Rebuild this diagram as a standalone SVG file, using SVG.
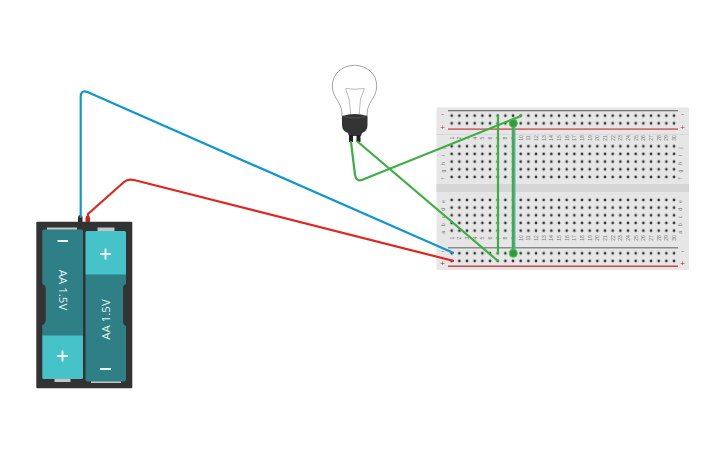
<svg xmlns="http://www.w3.org/2000/svg" width="725" height="453" viewBox="0 0 725 453">
<style>
.w{fill:none;stroke-width:2.2;stroke-linejoin:round;stroke-linecap:round}
.g{stroke:#3cb043}.b{stroke:#0f97d3}.r{stroke:#e0261e}
.n{font-family:"Liberation Sans",sans-serif;font-size:5px;fill:#777;text-anchor:middle}
.s{font-family:"Liberation Sans",sans-serif;font-size:8px;text-anchor:middle}
.bat{font-family:"Open Sans","Liberation Sans",sans-serif;font-size:11.5px;fill:#e8f4f4;text-anchor:middle}
.t{fill:#2f7f86}.c{fill:#45c3c8}.cap{fill:#c4c4c4}
.pm{stroke:#e8f6f6;stroke-width:2;fill:none}
.fil{fill:none;stroke:#aaa;stroke-width:.8}
</style>
<defs>
<pattern id="holes" patternUnits="userSpaceOnUse" x="447.87" y="111.87" width="7.667" height="7.667">
<circle cx="3.83" cy="3.83" r="1.35" fill="#333"/>
</pattern>
<pattern id="holes2" patternUnits="userSpaceOnUse" x="447.87" y="196.17" width="7.667" height="7.667">
<circle cx="3.83" cy="3.83" r="1.35" fill="#333"/>
</pattern>
<pattern id="holes3" patternUnits="userSpaceOnUse" x="447.87" y="142.47" width="7.667" height="7.667">
<circle cx="3.83" cy="3.83" r="1.35" fill="#333"/>
</pattern>
<pattern id="holes4" patternUnits="userSpaceOnUse" x="447.87" y="249.47" width="7.667" height="7.667">
<circle cx="3.83" cy="3.83" r="1.35" fill="#333"/>
</pattern>
</defs>
<rect width="725" height="453" fill="#fff"/>
<g id="breadboard">
<rect x="436.5" y="107.5" width="252.5" height="162.5" rx="1" fill="#e6e6e6"/>
<rect x="436.5" y="134" width="252.5" height="1" fill="#d8d8d8"/>
<rect x="436.5" y="184" width="252.5" height="8" fill="#d6d6d6"/>
<rect x="448" y="110" width="230" height="1.3" fill="#777"/>
<rect x="448" y="128.5" width="230" height="1.2" fill="#c0393b"/>
<rect x="448" y="247.2" width="230" height="1.2" fill="#777"/>
<rect x="448" y="265.6" width="230" height="1.2" fill="#c0262a"/>
<rect x="447.87" y="111.87" width="230" height="15.33" fill="url(#holes)"/>
<rect x="447.87" y="142.47" width="230" height="38.3" fill="url(#holes3)"/>
<rect x="447.87" y="196.17" width="230" height="38.3" fill="url(#holes2)"/>
<rect x="447.87" y="249.47" width="230" height="15.33" fill="url(#holes4)"/>
<g fill="#666">
<text class="s" x="442.500" y="116">-</text><text class="s" x="442.500" y="130" style="fill:#c0393b">+</text>
<text class="s" x="682.500" y="116">-</text><text class="s" x="682.500" y="130" style="fill:#c0393b">+</text>
<text class="s" x="442.500" y="253">-</text><text class="s" x="442.500" y="266" style="fill:#c0262a">+</text>
<text class="s" x="682.500" y="253">-</text><text class="s" x="682.500" y="266" style="fill:#c0262a">+</text>
</g>
<g class="labels">
<text class="n" transform="translate(453.5 138) rotate(-90)">1</text><text class="n" transform="translate(461.2 138) rotate(-90)">2</text><text class="n" transform="translate(468.8 138) rotate(-90)">3</text><text class="n" transform="translate(476.5 138) rotate(-90)">4</text><text class="n" transform="translate(484.2 138) rotate(-90)">5</text><text class="n" transform="translate(491.8 138) rotate(-90)">6</text><text class="n" transform="translate(499.5 138) rotate(-90)">7</text><text class="n" transform="translate(507.2 138) rotate(-90)">8</text><text class="n" transform="translate(514.8 138) rotate(-90)">9</text><text class="n" transform="translate(522.5 138) rotate(-90)">10</text><text class="n" transform="translate(530.2 138) rotate(-90)">11</text><text class="n" transform="translate(537.8 138) rotate(-90)">12</text><text class="n" transform="translate(545.5 138) rotate(-90)">13</text><text class="n" transform="translate(553.2 138) rotate(-90)">14</text><text class="n" transform="translate(560.8 138) rotate(-90)">15</text><text class="n" transform="translate(568.5 138) rotate(-90)">16</text><text class="n" transform="translate(576.2 138) rotate(-90)">17</text><text class="n" transform="translate(583.8 138) rotate(-90)">18</text><text class="n" transform="translate(591.5 138) rotate(-90)">19</text><text class="n" transform="translate(599.2 138) rotate(-90)">20</text><text class="n" transform="translate(606.8 138) rotate(-90)">21</text><text class="n" transform="translate(614.5 138) rotate(-90)">22</text><text class="n" transform="translate(622.2 138) rotate(-90)">23</text><text class="n" transform="translate(629.8 138) rotate(-90)">24</text><text class="n" transform="translate(637.5 138) rotate(-90)">25</text><text class="n" transform="translate(645.2 138) rotate(-90)">26</text><text class="n" transform="translate(652.8 138) rotate(-90)">27</text><text class="n" transform="translate(660.5 138) rotate(-90)">28</text><text class="n" transform="translate(668.2 138) rotate(-90)">29</text><text class="n" transform="translate(675.8 138) rotate(-90)">30</text>
<text class="n" transform="translate(453.5 238) rotate(-90)">1</text><text class="n" transform="translate(461.2 238) rotate(-90)">2</text><text class="n" transform="translate(468.8 238) rotate(-90)">3</text><text class="n" transform="translate(476.5 238) rotate(-90)">4</text><text class="n" transform="translate(484.2 238) rotate(-90)">5</text><text class="n" transform="translate(491.8 238) rotate(-90)">6</text><text class="n" transform="translate(499.5 238) rotate(-90)">7</text><text class="n" transform="translate(507.2 238) rotate(-90)">8</text><text class="n" transform="translate(514.8 238) rotate(-90)">9</text><text class="n" transform="translate(522.5 238) rotate(-90)">10</text><text class="n" transform="translate(530.2 238) rotate(-90)">11</text><text class="n" transform="translate(537.8 238) rotate(-90)">12</text><text class="n" transform="translate(545.5 238) rotate(-90)">13</text><text class="n" transform="translate(553.2 238) rotate(-90)">14</text><text class="n" transform="translate(560.8 238) rotate(-90)">15</text><text class="n" transform="translate(568.5 238) rotate(-90)">16</text><text class="n" transform="translate(576.2 238) rotate(-90)">17</text><text class="n" transform="translate(583.8 238) rotate(-90)">18</text><text class="n" transform="translate(591.5 238) rotate(-90)">19</text><text class="n" transform="translate(599.2 238) rotate(-90)">20</text><text class="n" transform="translate(606.8 238) rotate(-90)">21</text><text class="n" transform="translate(614.5 238) rotate(-90)">22</text><text class="n" transform="translate(622.2 238) rotate(-90)">23</text><text class="n" transform="translate(629.8 238) rotate(-90)">24</text><text class="n" transform="translate(637.5 238) rotate(-90)">25</text><text class="n" transform="translate(645.2 238) rotate(-90)">26</text><text class="n" transform="translate(652.8 238) rotate(-90)">27</text><text class="n" transform="translate(660.5 238) rotate(-90)">28</text><text class="n" transform="translate(668.2 238) rotate(-90)">29</text><text class="n" transform="translate(675.8 238) rotate(-90)">30</text>
<text class="n" transform="translate(445 148) rotate(-90)">j</text><text class="n" transform="translate(445 155.500) rotate(-90)">i</text><text class="n" transform="translate(445 163.300) rotate(-90)">h</text><text class="n" transform="translate(445 171) rotate(-90)">g</text><text class="n" transform="translate(445 178.500) rotate(-90)">f</text>
<text class="n" transform="translate(445 201.500) rotate(-90)">e</text><text class="n" transform="translate(445 209.300) rotate(-90)">d</text><text class="n" transform="translate(445 217) rotate(-90)">c</text><text class="n" transform="translate(445 224.500) rotate(-90)">b</text><text class="n" transform="translate(445 232.300) rotate(-90)">a</text>
<text class="n" transform="translate(681.500 148) rotate(-90)">j</text><text class="n" transform="translate(681.500 155.500) rotate(-90)">i</text><text class="n" transform="translate(681.500 163.300) rotate(-90)">h</text><text class="n" transform="translate(681.500 171) rotate(-90)">g</text><text class="n" transform="translate(681.500 178.500) rotate(-90)">f</text>
<text class="n" transform="translate(681.500 201.500) rotate(-90)">e</text><text class="n" transform="translate(681.500 209.300) rotate(-90)">d</text><text class="n" transform="translate(681.500 217) rotate(-90)">c</text><text class="n" transform="translate(681.500 224.500) rotate(-90)">b</text><text class="n" transform="translate(681.500 232.300) rotate(-90)">a</text>
</g>
</g>
<g id="bulb">
<path d="M342 116C342 107 339 103 336.500 99C334 95 332.300 91 332.300 86C332.300 74 342 65.300 354.500 65.300C367 65.300 376.700 74 376.700 86C376.700 91 375 95 372.500 99C370 103 367 107 367 116" fill="#fff" stroke="#999" stroke-width=".9"/>
<path class="fil" d="M345.500 88.500Q355 90 364.500 88.500L360.500 99L359 116M345.500 88.500L349 99L351 116"/>
<path d="M342 116Q355 112 367.500 116V125Q367.500 131 362 133L361 136H349L348 133Q342 131 342 125Z" fill="#333"/>
<path d="M342.500 116Q355 120 367 116" fill="none" stroke="#555" stroke-width=".8"/>
<rect x="349" y="135" width="4" height="7" fill="#222"/>
<rect x="356.500" y="135" width="4" height="7" fill="#222"/>
</g>
<g id="battery">
<rect x="36.300" y="221.700" width="96" height="166.600" rx="1" fill="#333"/>
<rect x="47" y="227.500" width="30" height="3" class="cap"/>
<rect x="54.500" y="378.500" width="16" height="3.500" class="cap"/>
<rect x="97.500" y="227.500" width="17" height="4" class="cap"/>
<rect x="91" y="380.500" width="30" height="2.500" class="cap"/>
<path class="t" d="M44 229.500H81.500Q83 229.500 83 231V336H42.300V325Q45.700 324 45.700 320V289Q45.700 285 42.300 284V231Q42.300 229.500 44 229.500Z"/>
<path class="c" d="M42.300 335.500H83V377.500Q83 379 81.500 379H44Q42.300 379 42.300 377.500Z"/>
<path class="t" d="M85.500 274H126V284Q123 285 123 289V321Q123 325 126 326V379.500Q126 381.500 124 381.500H87.500Q85.500 381.500 85.500 379.500Z"/>
<path class="c" d="M87 231H124.500Q126 231 126 232.500V274.500H85.500V232.500Q85.500 231 87 231Z"/>
<path class="pm" d="M57.500 241H68M57 356H68M62.500 350.500V361.500M100 254H111M105.500 248.500V259.500M100 369H111"/>
<text class="bat" transform="translate(58.500 290) rotate(90)">AA 1.5V</text>
<text class="bat" transform="translate(110 319.500) rotate(-90)">AA 1.5V</text>
<path d="M78 222V217.500Q78 215 80 215Q82.500 215 82.500 217.500V222Z" fill="#2b2b2b"/>
<path d="M85.500 222V218Q85.500 215.500 87.500 215.500Q90 215.500 90 218V222Z" fill="#c1201c"/>
</g>
<g id="connectors">
<path class="w b" d="M80.700 217V97Q80.700 89 88 92.300L453 252.800"/>
<path class="w r" d="M88 218V214L124 182Q128 178.500 134 180L453 260.800"/>
<path class="w g" d="M351 142L355 175Q356.500 182.500 363 179.500L521 116"/>
<path class="w g" d="M358 142L498 261"/>
<path class="w g" d="M498 116V253"/>
<path d="M514 123V253" fill="none" stroke="#66aacc" stroke-width="3"/>
<path d="M513 123V253" fill="none" stroke="#3cb043" stroke-width="2.500"/>
<circle cx="513.300" cy="123.300" r="4" fill="#2f9e3a" stroke="#4fc04f" stroke-width="1"/>
<circle cx="513.300" cy="253.300" r="4" fill="#2f9e3a" stroke="#4fc04f" stroke-width="1"/>
</g>
</svg>
